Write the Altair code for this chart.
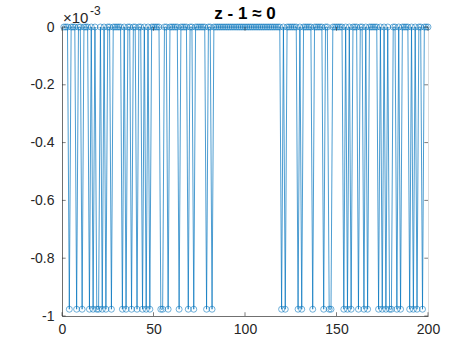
import altair as alt
import pandas as pd

# sample indices that fall to the lower level
low_idx = [4, 8, 11, 15, 17, 19, 20, 22, 24, 27, 33, 35, 38, 41, 44, 46, 48,
           54, 55, 58, 64, 69, 72, 79, 82, 120, 122, 129, 131, 137, 143, 146,
           147, 154, 156, 158, 162, 165, 167, 173, 175, 177, 179, 180, 183,
           185, 190, 192, 194, 197]
n_points = 200
low_value = -0.9765625  # in units of 1e-3
x_ticks = [0, 50, 100, 150, 200]
y_ticks = [-1, -0.8, -0.6, -0.4, -0.2, 0]
title_text = "z - 1 \u2248 0"

low_set = set(low_idx)
df = pd.DataFrame({
    "n": list(range(1, n_points + 1)),
    "v": [low_value if i in low_set else 0.0 for i in range(1, n_points + 1)],
})

blue = "#0072BD"
axis_col = "#262626"

xs = alt.Scale(domain=[0, 200], nice=False, zero=False)
ys = alt.Scale(domain=[-1, 0], nice=False, zero=False)

x_axis = alt.Axis(values=x_ticks, grid=False, ticks=False, labelFontSize=14,
                  labelColor=axis_col, domainColor=axis_col, domainWidth=0.6,
                  labelPadding=6, title=None, labelFont="Liberation Sans",
                  labelFlush=False, labelOverlap=False)
y_axis = alt.Axis(values=y_ticks, grid=False, ticks=False, labelFontSize=14,
                  labelColor=axis_col, domainColor=axis_col, domainWidth=0.6,
                  labelPadding=8, title=None, labelFont="Liberation Sans",
                  labelFlush=False, labelOverlap=False,
                  labelExpr="datum.value == 0 ? '0' : '-' + format(abs(datum.value), datum.value == -1 ? 'd' : '.1f')")

line = alt.Chart(df).mark_line(color=blue, strokeWidth=0.7).encode(
    x=alt.X("n:Q", scale=xs, axis=x_axis),
    y=alt.Y("v:Q", scale=ys, axis=y_axis),
)
pts = alt.Chart(df).mark_point(shape="circle", filled=False, color=blue,
                               size=36, strokeWidth=0.8).encode(
    x=alt.X("n:Q", scale=xs),
    y=alt.Y("v:Q", scale=ys),
)

# inward ticks (MATLAB style) built from tick lists
tx = pd.DataFrame({"t": x_ticks})
ty = pd.DataFrame({"t": y_ticks})
tb = alt.Chart(tx).mark_rule(color=axis_col, strokeWidth=0.6).encode(
    x=alt.X("t:Q", scale=xs), y=alt.datum(-1), y2=alt.datum(-0.987))
tt = alt.Chart(tx).mark_rule(color=axis_col, strokeWidth=0.6).encode(
    x=alt.X("t:Q", scale=xs), y=alt.datum(0), y2=alt.datum(-0.013))
tl = alt.Chart(ty).mark_rule(color=axis_col, strokeWidth=0.6).encode(
    y=alt.Y("t:Q", scale=ys), x=alt.datum(0), x2=alt.datum(2))
tr = alt.Chart(ty).mark_rule(color=axis_col, strokeWidth=0.6).encode(
    y=alt.Y("t:Q", scale=ys), x=alt.datum(200), x2=alt.datum(198))

exp_base = alt.Chart(pd.DataFrame({"s": ["\u00d710"]})).mark_text(
    align="left", baseline="alphabetic", fontSize=15, color=axis_col,
    font="Liberation Sans").encode(x=alt.value(1), y=alt.value(-4), text="s:N")
exp_sup = alt.Chart(pd.DataFrame({"s": ["-3"]})).mark_text(
    align="left", baseline="alphabetic", fontSize=12, color=axis_col,
    font="Liberation Sans").encode(x=alt.value(28), y=alt.value(-12), text="s:N")
title = alt.Chart(pd.DataFrame({"s": [title_text]})).mark_text(
    align="center", baseline="alphabetic", fontSize=17, fontWeight="bold",
    color="#000000", font="Liberation Sans").encode(
    x=alt.value(183), y=alt.value(-8), text="s:N")

chart = alt.layer(line, pts, tb, tt, tl, tr, exp_base, exp_sup, title).properties(
    width=366, height=289,
    autosize=alt.AutoSizeParams(type="none"),
    padding={"left": 62, "top": 27, "right": 46, "bottom": 39},
).configure_view(stroke=axis_col, strokeWidth=0.6).configure(background="white")

chart.save("out.html", embed_options={"renderer": "svg", "actions": False})
